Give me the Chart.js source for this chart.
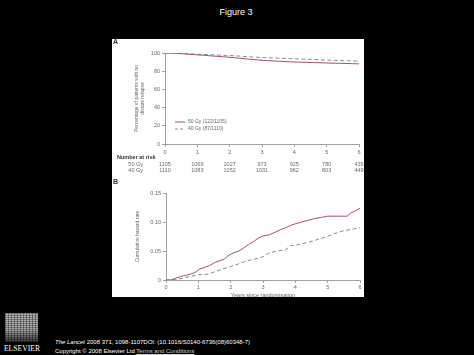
<!DOCTYPE html>
<html><head><meta charset="utf-8">
<script src="https://cdn.jsdelivr.net/npm/chart.js@4/dist/chart.umd.min.js"></script>
<style>
html,body{margin:0;padding:0;background:#000;width:474px;height:355px;overflow:hidden;font-family:"Liberation Sans",Arial,sans-serif;}
#title{position:absolute;left:0;width:472px;top:6px;text-align:center;color:#fff;font-size:9px;line-height:13px;}
#panel{position:absolute;left:112px;top:39px;width:252px;height:258px;background:#fff;overflow:hidden;}
#cA{position:absolute;left:0;top:0;}
#cB{position:absolute;left:0;top:139px;}
.lbl{position:absolute;font-weight:bold;font-size:7px;color:#333;font-family:"Liberation Sans",Arial,sans-serif;}
#logo{position:absolute;left:5px;top:313px;width:33px;height:29px;
 background:
  repeating-linear-gradient(90deg,rgba(0,0,0,.35) 0 1px,rgba(0,0,0,0) 1px 3px),
  repeating-linear-gradient(0deg,rgba(0,0,0,.3) 0 1px,rgba(0,0,0,0) 1px 2px),
  linear-gradient(180deg,#b5b5b5 0,#a5a5a5 60%,#6a6a6a 80%,#3a3a3a 100%);}
#logotxt{position:absolute;left:3px;top:344px;width:38px;text-align:center;color:#fff;font-family:"Liberation Serif",serif;font-size:7.5px;letter-spacing:0.1px;}
#cite{position:absolute;left:55px;top:338px;color:#fff;font-size:6px;line-height:8.5px;white-space:nowrap;}
#cite u{color:#ccc;}
</style></head>
<body>
<div id="title">Figure 3</div>
<div id="panel">
  <canvas id="cA" width="252" height="140"></canvas>
  <canvas id="cB" width="252" height="125"></canvas>
  <div class="lbl" style="left:1px;top:-1px;">A</div>
  <div class="lbl" style="left:1px;top:139px;">B</div>
</div>
<div id="logo"></div>
<div id="logotxt">ELSEVIER</div>
<div id="cite"><i>The Lancet</i> 2008 371, 1098-1107DOI: (10.1016/S0140-6736(08)60348-7)<br>Copyright © 2008 Elsevier Ltd <u>Terms and Conditions</u></div>
<script>
// ---- Data ----
const seriesLabels = ["50 Gy (122/1105)", "40 Gy (87/1110)"];
const riskLabels = ["50 Gy", "40 Gy"];
const yearTicks = [0, 1, 2, 3, 4, 5, 6];

// Panel A: percentage of patients with no distant relapse
const kmYears50 = [0, 0.3, 0.6, 0.9, 1.2, 1.5, 1.9, 2.3, 2.6, 3.0, 3.4, 3.8, 4.2, 4.6, 5.0, 5.4, 5.8, 6.0];
const kmVals50  = [100, 99.8, 99.0, 98.2, 97.5, 96.6, 95.6, 94.3, 93.2, 92.0, 91.2, 90.4, 89.9, 89.5, 89.0, 88.7, 88.3, 88.0];
const kmYears40 = [0, 0.3, 0.6, 0.9, 1.2, 1.5, 1.9, 2.3, 2.6, 3.0, 3.4, 3.8, 4.2, 4.6, 5.0, 5.4, 5.8, 6.0];
const kmVals40  = [100, 99.9, 99.4, 98.9, 98.4, 97.9, 97.4, 96.6, 95.8, 95.0, 94.5, 93.9, 93.4, 92.9, 92.2, 91.8, 91.3, 91.0];

// Number at risk
const risk50 = [1105, 1069, 1027, 973, 925, 780, 435];
const risk40 = [1110, 1083, 1052, 1031, 962, 803, 449];

// Panel B: cumulative hazard rate
const chYears50 = [0, 0.15, 0.3, 0.45, 0.6, 0.75, 0.9, 1.05, 1.2, 1.35, 1.5, 1.65, 1.8, 1.95, 2.1, 2.25, 2.4, 2.55, 2.7, 2.85, 3.0, 3.2, 3.4, 3.55, 3.7, 3.85, 4.0, 4.2, 4.4, 4.6, 4.8, 5.0, 5.3, 5.6, 5.7, 5.85, 6.0];
const chVals50  = [0, 0, 0.003, 0.006, 0.008, 0.010, 0.013, 0.019, 0.022, 0.025, 0.030, 0.033, 0.036, 0.043, 0.047, 0.050, 0.055, 0.061, 0.066, 0.072, 0.076, 0.078, 0.083, 0.087, 0.090, 0.094, 0.097, 0.100, 0.103, 0.106, 0.108, 0.110, 0.110, 0.110, 0.115, 0.119, 0.124];
const chYears40 = [0, 0.3, 0.5, 0.75, 1.0, 1.3, 1.5, 1.75, 2.0, 2.25, 2.5, 2.75, 3.0, 3.2, 3.45, 3.7, 3.85, 4.1, 4.4, 4.7, 5.0, 5.2, 5.5, 5.8, 6.0];
const chVals40  = [0, 0.001, 0.003, 0.006, 0.009, 0.010, 0.014, 0.019, 0.023, 0.028, 0.033, 0.036, 0.040, 0.047, 0.050, 0.052, 0.059, 0.061, 0.065, 0.070, 0.075, 0.080, 0.085, 0.088, 0.090];

// ---- Styles ----
const col50 = "#a8505f";
const col40 = "#8c8c8c";
const axisCol = "#8a8a8a";
const txtCol = "#6a6a6a";
const FONT = "'Liberation Sans', Arial, sans-serif";
const pts = (xs, ys) => xs.map((x, i) => ({x: x, y: ys[i]}));

function xAxis(h, pad, title) {
  return {
    type: 'linear', min: 0, max: 6,
    afterBuildTicks: s => { s.ticks = yearTicks.map(v => ({value: v})); },
    ticks: {color: txtCol, font: {size: 5.5, family: FONT}, padding: pad, maxRotation: 0},
    grid: {drawOnChartArea: false, tickLength: 3, color: axisCol, lineWidth: 0.8},
    border: {display: true, color: axisCol, width: 0.8},
    title: title,
    afterFit: s => { s.height = h; }
  };
}

const legendRiskPlugin = {
  id: 'legendRisk',
  afterDraw(chart) {
    const ctx = chart.ctx, ca = chart.chartArea, xs = chart.scales.x;
    ctx.save();
    // legend inside plot
    const lx = ca.left + 10, ly = [ca.top + 69, ca.top + 76];
    const cols = [col50, col40], dashes = [[], [3, 2]];
    ctx.font = "5px " + FONT;
    ctx.textBaseline = 'middle';
    for (let i = 0; i < 2; i++) {
      ctx.strokeStyle = cols[i]; ctx.lineWidth = 1; ctx.setLineDash(dashes[i]);
      ctx.beginPath(); ctx.moveTo(lx, ly[i]); ctx.lineTo(lx + 10, ly[i]); ctx.stroke();
      ctx.setLineDash([]);
      ctx.fillStyle = txtCol; ctx.textAlign = 'left';
      ctx.fillText(seriesLabels[i], lx + 13, ly[i]);
    }
    // number at risk
    ctx.fillStyle = "#333";
    ctx.font = "bold 5.5px " + FONT;
    ctx.textAlign = 'left';
    ctx.fillText("Number at risk", 5, 118);
    ctx.font = "5.5px " + FONT;
    ctx.fillStyle = txtCol;
    const rows = [risk50, risk40], ry = [125, 131];
    for (let r = 0; r < 2; r++) {
      ctx.textAlign = 'right';
      ctx.fillText(riskLabels[r], 31, ry[r]);
      ctx.textAlign = 'center';
      rows[r].forEach((v, i) => ctx.fillText(String(v), xs.getPixelForValue(yearTicks[i]), ry[r]));
    }
    ctx.restore();
  }
};

Chart.defaults.font.family = FONT;

new Chart(document.getElementById('cA'), {
  type: 'line',
  data: {datasets: [
    {label: seriesLabels[0], data: pts(kmYears50, kmVals50), borderColor: col50, borderWidth: 1, pointRadius: 0, tension: 0},
    {label: seriesLabels[1], data: pts(kmYears40, kmVals40), borderColor: col40, borderWidth: 1, borderDash: [4, 2.5], pointRadius: 0, tension: 0}
  ]},
  options: {
    responsive: false, animation: false, devicePixelRatio: 1,
    layout: {padding: {left: 0, right: 5, top: 14, bottom: 0}},
    plugins: {legend: {display: false}, tooltip: {enabled: false}},
    scales: {
      x: xAxis(35, 2, {display: false}),
      y: {
        min: 0, max: 100,
        ticks: {stepSize: 10, color: txtCol, font: {size: 5.5, family: FONT}, padding: 2},
        grid: {drawOnChartArea: false, tickLength: 3, color: axisCol, lineWidth: 0.8},
        border: {display: true, color: axisCol, width: 0.8},
        title: {display: true, text: ["Percentage of patients with no", "distant relapse"], color: txtCol,
                font: {size: 5, family: FONT, lineHeight: 1.3}, padding: {top: 21, bottom: 0}},
        afterFit: s => { s.width = 53; }
      }
    }
  },
  plugins: [legendRiskPlugin]
});

new Chart(document.getElementById('cB'), {
  type: 'line',
  data: {datasets: [
    {label: seriesLabels[0], data: pts(chYears50, chVals50), borderColor: col50, borderWidth: 1, pointRadius: 0, tension: 0},
    {label: seriesLabels[1], data: pts(chYears40, chVals40), borderColor: col40, borderWidth: 1, borderDash: [4, 2.5], pointRadius: 0, tension: 0}
  ]},
  options: {
    responsive: false, animation: false, devicePixelRatio: 1,
    layout: {padding: {left: 0, right: 4, top: 15, bottom: 0}},
    plugins: {legend: {display: false}, tooltip: {enabled: false}},
    scales: {
      x: xAxis(23, 1, {display: true, text: "Years since randomisation", color: txtCol,
                       font: {size: 5.5, family: FONT}, padding: {top: 0, bottom: 4}}),
      y: {
        min: 0, max: 0.15,
        ticks: {stepSize: 0.05, color: txtCol, font: {size: 5.5, family: FONT}, padding: 2,
                callback: v => v === 0 ? "0" : v.toFixed(2)},
        grid: {drawOnChartArea: false, tickLength: 3, color: axisCol, lineWidth: 0.8},
        border: {display: true, color: axisCol, width: 0.8},
        title: {display: true, text: "Cumulative hazard rate", color: txtCol,
                font: {size: 5, family: FONT}, padding: {top: 23, bottom: 0}},
        afterFit: s => { s.width = 54; }
      }
    }
  }
});
</script>
</body></html>
